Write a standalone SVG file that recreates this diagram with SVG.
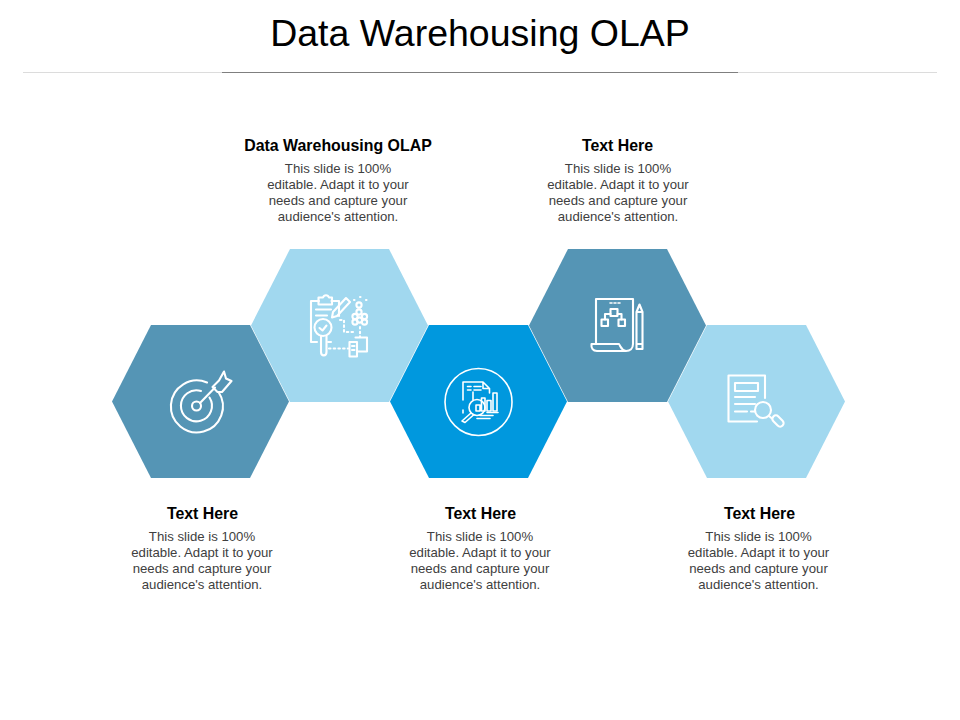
<svg xmlns="http://www.w3.org/2000/svg" width="960" height="720" viewBox="0 0 960 720">
<style>
text{font-family:"Liberation Sans",Arial,sans-serif;text-anchor:middle}
.t{font-size:37.5px;fill:#000}
.h{font-size:15.9px;font-weight:700;fill:#000}
.b{font-size:13.2px;fill:#404040}
.i{fill:none;stroke:#fff;stroke-width:2.1;stroke-linecap:round;stroke-linejoin:round}
.d{stroke-dasharray:1.5 3.2}
.n{stroke-width:1.6}
</style>
<rect width="960" height="720" fill="#fff"/>
<g id="title">
<text class="t" x="480" y="46">Data Warehousing OLAP</text>
<path d="M23 72.500H937" stroke="#dcdcdc" fill="none"/>
<path d="M222 72.500H738" stroke="#7f7f7f" fill="none"/>
</g>
<g id="node-2">
<polygon points="251,325.500 290,249 389,249 428,325.500 389,402 290,402" fill="#a1d8ef"/>
<g class="i">
<path d="M339 316V301H331.500M319 301H311V342H317M328 342H331"/>
<path d="M318.500 301V297.500H323C324 294.500 328 294.500 329 297.500H332V304.500H318.500Z"/>
<path d="M316 309.500H331M316 315.500H327"/>
<circle cx="323" cy="327.500" r="8.500"/>
<path d="M319.500 328L322.500 330.500L326.500 325.500"/>
<path d="M321 336.500V352C321 356.500 326.500 356.500 326.500 352V336.500"/>
<path d="M333 312L346 298L350 302L337 316L332 317.500Z"/>
<circle cx="359" cy="305" r="2.600"/><circle cx="359" cy="312" r="2.600"/><circle cx="355" cy="316.500" r="2.600"/><circle cx="364.500" cy="316.500" r="2.600"/><circle cx="359.500" cy="320" r="2.600"/><circle cx="355" cy="322" r="2.600"/><circle cx="364.500" cy="322" r="2.600"/>
<path class="d" d="M340 320H344V332H353M360 327V337M329 348.500H348M354 300H354.500M366 300H366.500M360 297H360.500"/>
<path d="M349.500 342H357V356.500H349.500ZM355.500 337.500H367V351.500H358"/>
<path d="M352 346H354.500M352 350H354.500"/>
</g>
</g>
<g id="node-1">
<polygon points="112,401.500 151,325 250,325 289,401.500 250,478 151,478" fill="#5595b5"/>
<g class="i">
<path d="M218.500 392A26 26 0 1 1 207 382.500"/>
<path d="M209.500 397.500A15.500 15.500 0 1 1 201 391"/>
<circle cx="196.500" cy="406" r="4.500"/>
<path d="M200 403L215 387.500"/>
<path d="M212.500 387L219 380.500L224 371.500L226 378.500L231.500 381L222 392L217.500 392Z"/>
</g>
</g>
<g id="node-4">
<polygon points="529,325.500 568,249 667,249 706,325.500 667,402 568,402" fill="#5595b5"/>
<g class="i">
<path d="M633 299H596V344M633 299V344C633 348.500 630 351 626 351H597C593 351 591 348.500 591.500 344H619C621 347 621 350 626 351"/>
<path d="M610 303H612M614 303H616M618 303H620" class="n"/>
<path d="M610.500 309H617.500V316H610.500ZM601.500 319.500H608V326H601.500ZM618.500 319.500H625V326H618.500Z"/>
<path d="M605 319.500V314H610.500M617.500 314H621.500V319.500"/>
<path d="M636.500 312L639.500 304.500L642.500 312V349H636.500ZM636.500 312H642.500M636.500 344H642.500"/>
</g>
</g>
<g id="node-3">
<polygon points="390,401.500 429,325 528,325 567,401.500 528,478 429,478" fill="#0098de"/>
<g class="i n">
<circle cx="478.500" cy="402" r="33.500"/>
<path d="M463 400V382H483L489.500 388.500V393M483 382V388.500H489.500M463 410V413"/>
<path d="M467.500 386.500H471M467.500 390H471M474 386.500H481M474 390H481"/>
<path d="M473 392V400"/>
<circle cx="477" cy="407.500" r="8"/>
<path d="M471 413L462 421L465 422.500L473.500 415"/>
<path d="M476 405H480V411H476ZM481.500 398H485V411H481.500ZM487 400.500H491V411H487ZM493 393H497V411H493Z"/>
<path d="M487 412.500H498M480 415.500H493M477 418.500H490"/>
</g>
</g>
<g id="node-5">
<polygon points="668,401.500 707,325 806,325 845,401.500 806,478 707,478" fill="#a1d8ef"/>
<g class="i">
<path d="M765 398V375.500H728.500V421.500H757"/>
<path d="M735 383H758V391H735ZM735 397H755M735 404H755M735 411.500H747M751 411.500H755"/>
<circle cx="763" cy="410" r="8"/>
<path d="M769 416L772 418.500"/>
<rect x="771.500" y="417.500" width="13" height="7" rx="3.500" transform="rotate(45 778 421)"/>
</g>
</g>
<g id="labels">
<text class="h" x="338" y="151">Data Warehousing OLAP</text>
<text class="b" x="338" y="172.500">This slide is 100%</text>
<text class="b" x="338" y="188.500">editable. Adapt it to your</text>
<text class="b" x="338" y="204.500">needs and capture your</text>
<text class="b" x="338" y="220.500">audience's attention.</text>
<text class="h" x="617.500" y="151">Text Here</text>
<text class="b" x="618" y="172.500">This slide is 100%</text>
<text class="b" x="618" y="188.500">editable. Adapt it to your</text>
<text class="b" x="618" y="204.500">needs and capture your</text>
<text class="b" x="618" y="220.500">audience's attention.</text>
<text class="h" x="202.500" y="518.500">Text Here</text>
<text class="b" x="202" y="540.500">This slide is 100%</text>
<text class="b" x="202" y="556.500">editable. Adapt it to your</text>
<text class="b" x="202" y="572.500">needs and capture your</text>
<text class="b" x="202" y="588.500">audience's attention.</text>
<text class="h" x="480.500" y="518.500">Text Here</text>
<text class="b" x="480" y="540.500">This slide is 100%</text>
<text class="b" x="480" y="556.500">editable. Adapt it to your</text>
<text class="b" x="480" y="572.500">needs and capture your</text>
<text class="b" x="480" y="588.500">audience's attention.</text>
<text class="h" x="759.500" y="518.500">Text Here</text>
<text class="b" x="758.500" y="540.500">This slide is 100%</text>
<text class="b" x="758.500" y="556.500">editable. Adapt it to your</text>
<text class="b" x="758.500" y="572.500">needs and capture your</text>
<text class="b" x="758.500" y="588.500">audience's attention.</text>
</g>
</svg>
